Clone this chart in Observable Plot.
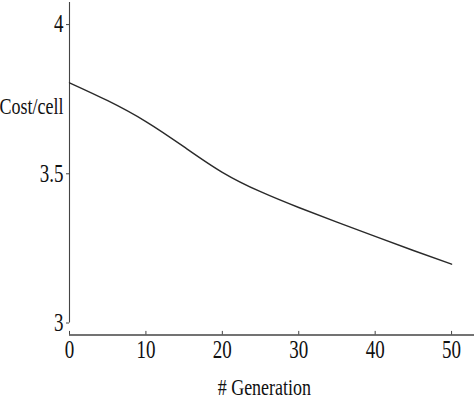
<!DOCTYPE html>
<html>
<head>
<meta charset="utf-8">
<script src="https://cdn.jsdelivr.net/npm/d3@7"></script>
<script src="https://cdn.jsdelivr.net/npm/@observablehq/plot@0.6"></script>
<style>
  html, body { margin: 0; padding: 0; background: #fff; }
  svg { display: block; }
</style>
</head>
<body>
<div id="chart"></div>
<script>
const generations = [0, 5, 10, 15, 20, 25, 30, 35, 40, 45, 50];
const costPerCell = [3.805, 3.745, 3.675, 3.59, 3.505, 3.44, 3.387, 3.338, 3.29, 3.243, 3.197];
const xTicks = [0, 10, 20, 30, 40, 50];
const yTicks = [3, 3.5, 4];
const xLabel = "# Generation";
const yLabel = "Cost/cell";

const data = generations.map((g, i) => ({g, c: costPerCell[i]}));
const font = "Liberation Serif, Times New Roman, serif";
const axisColor = "#444";

const plot = Plot.plot({
  width: 474,
  height: 395,
  marginLeft: 69,
  marginRight: 0,
  marginTop: 2,
  marginBottom: 72.5,
  style: {fontFamily: font, fontSize: "18px", color: "#111", background: "#fff"},
  x: {domain: [0, 53], axis: null},
  y: {domain: [3, 4.074], axis: null},
  marks: [
    // y axis
    Plot.ruleX([0], {stroke: axisColor, strokeWidth: 1.1}),
    Plot.axisY({ticks: yTicks, tickFormat: d => String(d), tickSize: 3, tickPadding: 3, label: null, stroke: axisColor, fontSize: 19, fill: "#111"}),
    // x axis (offset below the plot)
    Plot.ruleY([3], {dy: 12, stroke: axisColor, strokeWidth: 1.3}),
    Plot.ruleX(xTicks, {x: d => d, y1: 3, y2: 3.012, dy: 12, stroke: axisColor}),
    Plot.text(xTicks, {x: d => d, frameAnchor: "bottom", lineAnchor: "top", dy: 17, fontSize: 19, fill: "#111"}),
    // labels
    Plot.text([yLabel], {x: 0, y: 3.727, dx: -6, textAnchor: "end", lineAnchor: "middle", fontSize: 18, fill: "#111"}),
    Plot.text([xLabel], {x: 25.5, frameAnchor: "bottom", lineAnchor: "bottom", dy: 72, fontSize: 18, fill: "#111"}),
    // data line
    Plot.line(data, {x: "g", y: "c", curve: "natural", stroke: "#2a2a2a", strokeWidth: 1.4})
  ]
});

// the reference's glyphs are stretched vertically
plot.querySelectorAll("text").forEach(t => {
  const tr = t.getAttribute("transform") || "";
  t.setAttribute("transform", `${tr} scale(1,1.3)`);
});

document.getElementById("chart").appendChild(plot);
</script>
</body>
</html>
